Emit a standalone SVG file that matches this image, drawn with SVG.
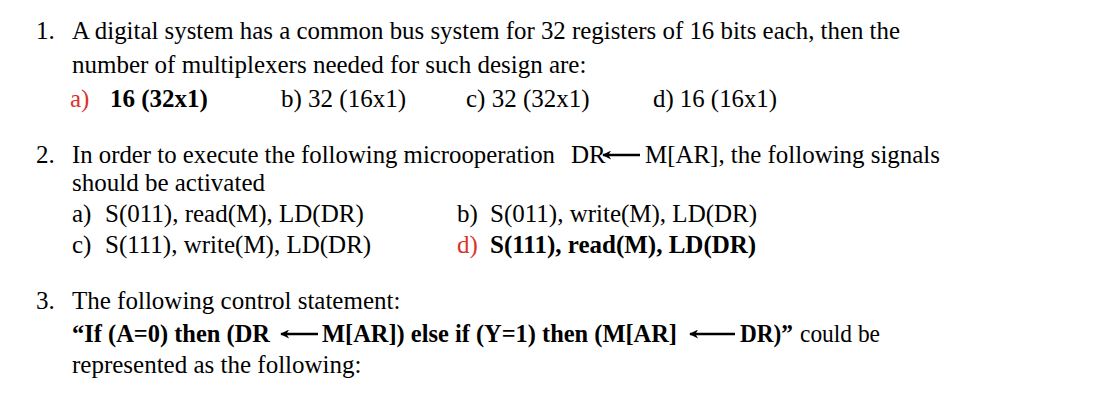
<svg xmlns="http://www.w3.org/2000/svg" width="1106" height="400" viewBox="0 0 1106 400">
<style>
text{font-family:"Liberation Serif","Times New Roman",serif;font-size:25px;fill:#000}
.b{font-weight:bold}
.r{fill:#d9342b}
.arr{stroke:#000;stroke-width:2.4;fill:none}
</style>
<defs><marker id="ah" viewBox="0 0 10 10" refX="9" refY="5" markerUnits="userSpaceOnUse" markerWidth="12" markerHeight="9" orient="auto"><path d="M0,0 L10,5 L0,10 L3,5 Z" fill="#000"/></marker></defs>
<rect width="1106" height="400" fill="#fff"/>
<g id="q1">
<text x="36" y="39">1.</text>
<text x="72" y="39" textLength="828" lengthAdjust="spacingAndGlyphs">A digital system has a common bus system for 32 registers of 16 bits each, then the</text>
<text x="72" y="73">number of multiplexers needed for such design are:</text>
<text x="70" y="107" class="r">a)</text>
<text x="110" y="107" class="b">16 (32x1)</text>
<text x="281" y="107">b) 32 (16x1)</text>
<text x="466" y="107">c) 32 (32x1)</text>
<text x="653" y="107" textLength="124" lengthAdjust="spacingAndGlyphs">d) 16 (16x1)</text>
</g>
<g id="q2">
<text x="36" y="163">2.</text>
<text x="72" y="163" textLength="483" lengthAdjust="spacingAndGlyphs">In order to execute the following microoperation</text>
<text x="571" y="163">DR</text>
<text x="645" y="163" textLength="295" lengthAdjust="spacingAndGlyphs">M[AR], the following signals</text>
<text x="72" y="191">should be activated</text>
<text x="72" y="222">a)</text>
<text x="105" y="222">S(011), read(M), LD(DR)</text>
<text x="457" y="222">b)</text>
<text x="490" y="222">S(011), write(M), LD(DR)</text>
<text x="72" y="253">c)</text>
<text x="105" y="253">S(111), write(M), LD(DR)</text>
<text x="457" y="253" class="r">d)</text>
<text x="490" y="253" class="b">S(111), read(M), LD(DR)</text>
</g>
<g id="q3">
<text x="36" y="309">3.</text>
<text x="72" y="309">The following control statement:</text>
<text x="72" y="342" class="b" textLength="198" lengthAdjust="spacingAndGlyphs">“If (A=0) then (DR</text>
<text x="322" y="342" class="b" textLength="355" lengthAdjust="spacingAndGlyphs">M[AR]) else if (Y=1) then (M[AR]</text>
<text x="740" y="342" class="b" textLength="53" lengthAdjust="spacingAndGlyphs">DR)”</text>
<text x="800" y="342" textLength="80" lengthAdjust="spacingAndGlyphs">could be</text>
<text x="72" y="373">represented as the following:</text>
</g>
<g id="connectors">
<line class="arr" x1="640" y1="155" x2="603" y2="155" marker-end="url(#ah)"/>
<line class="arr" x1="318" y1="334" x2="281" y2="334" marker-end="url(#ah)"/>
<line class="arr" x1="735" y1="334" x2="690" y2="334" marker-end="url(#ah)"/>
</g>
</svg>
